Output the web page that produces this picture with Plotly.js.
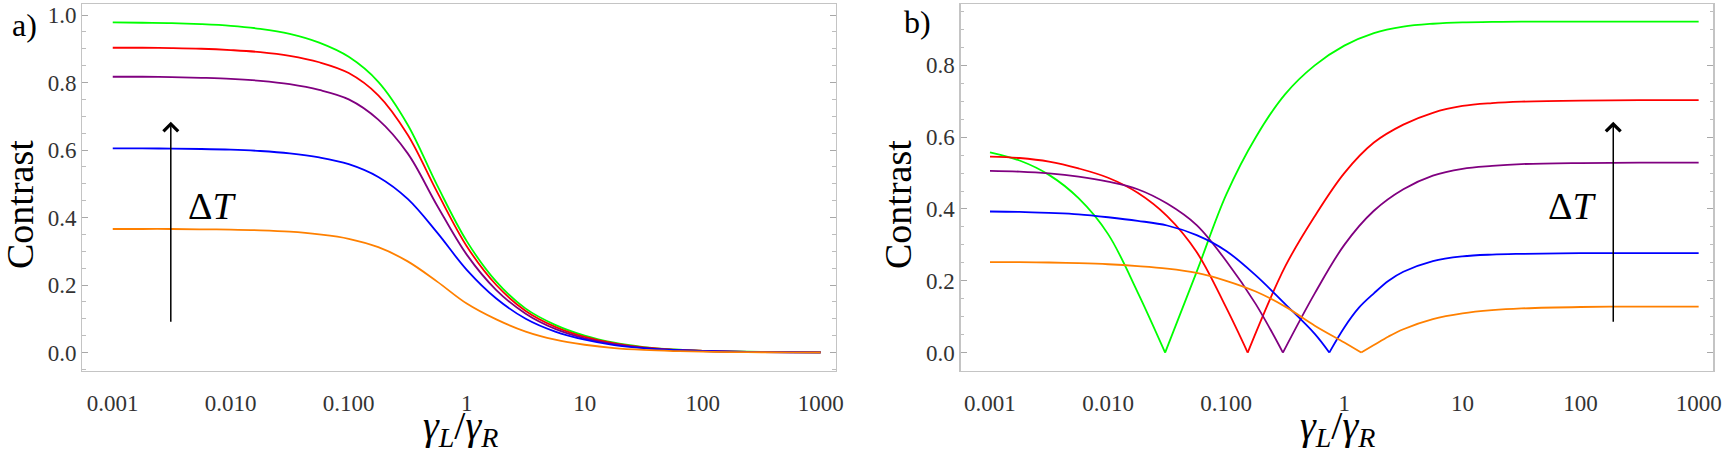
<!DOCTYPE html>
<html>
<head>
<meta charset="utf-8">
<script src="https://cdn.plot.ly/plotly-3.0.1.min.js"></script>
<style>
  html, body { margin: 0; padding: 0; background: #fff; }
  #chart { width: 1725px; height: 455px; }
</style>
</head>
<body>
<div id="chart"></div>
<script>
// ---------- Panel a: contrast vs gamma_L/gamma_R (monotone decay) ----------
const ratioA = [0.001, 0.00178, 0.00316, 0.00562, 0.01, 0.0178, 0.0316, 0.0562, 0.1, 0.178, 0.316, 0.562, 1,
                1.78, 3.16, 5.62, 10, 17.8, 31.6, 56.2, 100, 178, 316, 562, 1000];
const aGreen  = [0.978, 0.977, 0.976, 0.973, 0.968, 0.959, 0.944, 0.918, 0.876, 0.802, 0.675, 0.495, 0.330,
                 0.210, 0.130, 0.082, 0.050, 0.029, 0.016, 0.009, 0.005, 0.003, 0.0016, 0.0009, 0.0005];
const aRed    = [0.903, 0.903, 0.902, 0.900, 0.896, 0.890, 0.879, 0.860, 0.828, 0.762, 0.645, 0.475, 0.315,
                 0.200, 0.123, 0.076, 0.046, 0.027, 0.015, 0.0085, 0.005, 0.0028, 0.0015, 0.0009, 0.0005];
const aPurple = [0.817, 0.817, 0.816, 0.814, 0.811, 0.805, 0.795, 0.778, 0.750, 0.690, 0.590, 0.435, 0.290,
                 0.185, 0.115, 0.070, 0.042, 0.025, 0.014, 0.008, 0.0047, 0.0027, 0.0015, 0.0008, 0.0005];
const aBlue   = [0.605, 0.605, 0.604, 0.603, 0.601, 0.597, 0.590, 0.578, 0.558, 0.520, 0.455, 0.355, 0.245,
                 0.160, 0.100, 0.062, 0.038, 0.022, 0.013, 0.0075, 0.0043, 0.0025, 0.0014, 0.0008, 0.0004];
const aOrange = [0.366, 0.366, 0.366, 0.365, 0.364, 0.362, 0.358, 0.350, 0.337, 0.312, 0.270, 0.210, 0.145,
                 0.098, 0.062, 0.038, 0.023, 0.013, 0.0075, 0.0043, 0.0025, 0.0014, 0.0008, 0.0005, 0.0003];

// ---------- Panel b: contrast with a sign change (sharp zero) ----------
const bGreenX  = [0.001, 0.00178, 0.00316, 0.00562, 0.01, 0.0178, 0.0304, 0.0562, 0.1, 0.178, 0.316, 0.562, 1,
                  1.78, 3.16, 5.62, 10, 17.8, 31.6, 100, 316, 1000];
const bGreen   = [0.558, 0.535, 0.495, 0.430, 0.330, 0.168, 0, 0.225, 0.440, 0.600, 0.720, 0.800, 0.855,
                  0.890, 0.908, 0.916, 0.920, 0.921, 0.922, 0.922, 0.922, 0.922];
const bRedX    = [0.001, 0.00178, 0.00316, 0.00562, 0.01, 0.0178, 0.0316, 0.0562, 0.1, 0.152, 0.316, 0.562, 1,
                  1.78, 3.16, 5.62, 10, 17.8, 31.6, 100, 316, 1000];
const bRed     = [0.546, 0.542, 0.532, 0.513, 0.487, 0.445, 0.380, 0.280, 0.125, 0, 0.240, 0.380, 0.500,
                  0.585, 0.635, 0.668, 0.687, 0.695, 0.699, 0.702, 0.703, 0.703];
const bPurpleX = [0.001, 0.00178, 0.00316, 0.00562, 0.01, 0.0178, 0.0316, 0.0562, 0.1, 0.178, 0.302, 0.562, 1,
                  1.78, 3.16, 5.62, 10, 17.8, 31.6, 100, 316, 1000];
const bPurple  = [0.506, 0.504, 0.499, 0.490, 0.476, 0.455, 0.415, 0.355, 0.255, 0.135, 0, 0.165, 0.300,
                  0.395, 0.455, 0.493, 0.512, 0.520, 0.525, 0.528, 0.529, 0.529];
const bBlueX   = [0.001, 0.00178, 0.00316, 0.00562, 0.01, 0.0178, 0.0316, 0.0562, 0.1, 0.178, 0.316, 0.562, 0.746,
                  1, 1.33, 1.78, 2.37, 3.16, 5.62, 10, 17.8, 31.6, 100, 316, 1000];
const bBlue    = [0.393, 0.392, 0.389, 0.385, 0.377, 0.367, 0.354, 0.327, 0.283, 0.215, 0.135, 0.052, 0,
                  0.070, 0.125, 0.165, 0.200, 0.225, 0.255, 0.268, 0.273, 0.275, 0.277, 0.277, 0.277];
const bOrangeX = [0.001, 0.00178, 0.00316, 0.00562, 0.01, 0.0178, 0.0316, 0.0562, 0.1, 0.178, 0.316, 0.562, 1,
                  1.39, 1.78, 2.37, 3.16, 5.62, 10, 17.8, 31.6, 100, 316, 1000];
const bOrange  = [0.252, 0.252, 0.251, 0.249, 0.246, 0.241, 0.234, 0.222, 0.200, 0.170, 0.128, 0.075, 0.028,
                  0, 0.021, 0.045, 0.065, 0.093, 0.109, 0.118, 0.123, 0.127, 0.128, 0.128];

// Tick labels
const xTickVals = [0.001, 0.01, 0.1, 1, 10, 100, 1000];
const xTickText = ['0.001', '0.010', '0.100', '1', '10', '100', '1000'];
const yTickValsA = [0, 0.2, 0.4, 0.6, 0.8, 1.0];
const yTickTextA = ['0.0', '0.2', '0.4', '0.6', '0.8', '1.0'];
const yTickValsB = [0, 0.2, 0.4, 0.6, 0.8];
const yTickTextB = ['0.0', '0.2', '0.4', '0.6', '0.8'];

// Line colours (green, red, purple, blue, orange)
const colors = ['#00ff00', '#ff0000', '#800080', '#0000ff', '#ff8000'];

// Minor log ticks: 2..9 in every decade
const minorX = [];
for (let d = -4; d <= 3; d++) {
  for (let k = 2; k <= 9; k++) minorX.push(k * Math.pow(10, d));
}

const traces = [];
const lineW = 1.8;

[aGreen, aRed, aPurple, aBlue, aOrange].forEach((ys, i) => {
  traces.push({
    x: ratioA, y: ys, xaxis: 'x', yaxis: 'y', type: 'scatter', mode: 'lines',
    line: { color: colors[i], width: lineW, shape: 'spline', smoothing: 1 },
    hoverinfo: 'skip', showlegend: false
  });
});

// Split each panel-b curve at its zero so the cusp stays sharp
[[bGreenX, bGreen], [bRedX, bRed], [bPurpleX, bPurple], [bBlueX, bBlue], [bOrangeX, bOrange]].forEach(([xs, ys], i) => {
  const k = ys.indexOf(0);
  [[0, k + 1], [k, ys.length]].forEach(([s, e]) => {
    traces.push({
      x: xs.slice(s, e), y: ys.slice(s, e), xaxis: 'x2', yaxis: 'y2', type: 'scatter', mode: 'lines',
      line: { color: colors[i], width: lineW, shape: 'spline', smoothing: 1 },
      hoverinfo: 'skip', showlegend: false
    });
  });
});

const W = 1725, H = 455;
const serif = 'Liberation Serif';
const tickFont = { family: serif, size: 23, color: '#333' };
const frame = '#c4c4c4';
const tickCol = '#a8a8a8';
const minorCol = '#bdbdbd';

// Labelled x axis: invisible outside ticks push the labels below the frame
function xAxisLabels(domain, range, anchor) {
  return {
    type: 'log', domain: domain, range: range, anchor: anchor,
    showline: true, linecolor: frame, linewidth: 1.3, mirror: true,
    ticks: 'outside', ticklen: 11, tickcolor: 'rgba(0,0,0,0)',
    tickmode: 'array', tickvals: xTickVals, ticktext: xTickText,
    showgrid: false, zeroline: false, tickfont: tickFont, fixedrange: true
  };
}
// Overlay x axis carrying the inward frame ticks (major + minor, both edges)
function xAxisTicks(domain, range, anchor, over) {
  return {
    type: 'log', domain: domain, range: range, anchor: anchor, overlaying: over,
    showline: true, linecolor: frame, linewidth: 1.3, mirror: 'allticks',
    ticks: 'inside', ticklen: 6, tickwidth: 1, tickcolor: tickCol,
    tickmode: 'array', tickvals: xTickVals, showticklabels: false,
    minor: { ticks: 'inside', ticklen: 3.5, tickwidth: 1, tickcolor: minorCol, tickmode: 'array', tickvals: minorX, showgrid: false },
    showgrid: false, zeroline: false, fixedrange: true
  };
}
function yAxis(domain, range, anchor, vals, text) {
  return {
    domain: domain, range: range, anchor: anchor,
    showline: true, linecolor: frame, linewidth: 1.3, mirror: 'allticks',
    ticks: 'inside', ticklen: 6, tickwidth: 1, tickcolor: tickCol,
    tickmode: 'array', tickvals: vals, ticktext: text,
    minor: { ticks: 'inside', ticklen: 3.5, tickwidth: 1, tickcolor: minorCol, dtick: 0.05, showgrid: false },
    showgrid: false, zeroline: false, tickfont: tickFont, fixedrange: true
  };
}

function txt(text, px, py, size, extra) {
  return Object.assign({
    text: text, xref: 'paper', yref: 'paper', x: px / W, y: 1 - py / H,
    xanchor: 'center', yanchor: 'middle', showarrow: false,
    font: { family: serif, size: size, color: '#000' }
  }, extra || {});
}
function arrow(xr, yr, xLog, yTip, yTail) {
  return {
    text: '', xref: xr, yref: yr, axref: xr, ayref: yr,
    x: xLog, y: yTip, ax: xLog, ay: yTail,
    showarrow: true, arrowhead: 4, arrowsize: 1.9, arrowwidth: 1.5, arrowcolor: '#000', standoff: 0
  };
}

const xTitle = '<i>γ</i><sub><i>L</i></sub>/<i>γ</i><sub><i>R</i></sub>';
const domA = [82.3 / W, 835.7 / W], domB = [960.7 / W, 1713.3 / W];
const rangeA = [-3.258, 3.127], rangeB = [-3.248, 3.124];
const domY = [(H - 371) / H, (H - 4) / H];

const layout = {
  width: W, height: H,
  margin: { l: 0, r: 0, t: 0, b: 0 },
  paper_bgcolor: '#fff', plot_bgcolor: '#fff',
  showlegend: false,
  xaxis: xAxisLabels(domA, rangeA, 'y'),
  yaxis: yAxis(domY, [-0.0548, 1.0326], 'x', yTickValsA, yTickTextA),
  xaxis2: xAxisLabels(domB, rangeB, 'y2'),
  yaxis2: yAxis(domY, [-0.0513, 0.971], 'x2', yTickValsB, yTickTextB),
  xaxis3: xAxisTicks(domA, rangeA, 'y', 'x'),
  xaxis4: xAxisTicks(domB, rangeB, 'y2', 'x2'),
  annotations: [
    txt('a)', 24, 25, 32),
    txt('b)', 917, 22, 32),
    txt('Contrast', 20, 205, 38, { textangle: -90 }),
    txt('Contrast', 898, 205, 38, { textangle: -90 }),
    txt(xTitle, 460, 428, 40),
    txt(xTitle, 1337, 428, 40),
    txt('Δ<i>T</i>', 212, 206, 38),
    txt('Δ<i>T</i>', 1572, 206, 38),
    arrow('x', 'y', -2.508, 0.684, 0.0865),
    arrow('x2', 'y2', 2.277, 0.643, 0.0816)
  ]
};

Plotly.newPlot('chart', traces, layout, { staticPlot: true, displayModeBar: false });
</script>
</body>
</html>
